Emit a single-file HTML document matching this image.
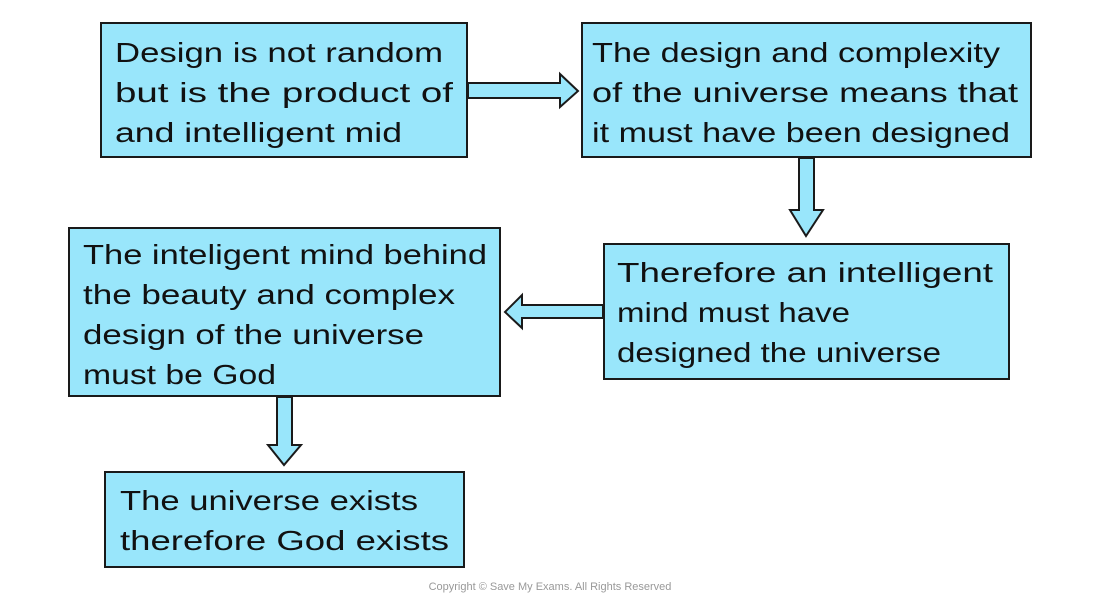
<!DOCTYPE html>
<html><head><meta charset="utf-8"><style>html,body{margin:0;padding:0;background:#fff}svg{display:block}</style></head>
<body>
<svg width="1100" height="604" xmlns="http://www.w3.org/2000/svg" font-family="Liberation Sans, sans-serif">
<g fill="#99e6fb" stroke="#1a1a1a" stroke-width="2">
<rect x="101" y="23" width="366" height="134"/>
<rect x="582" y="23" width="449" height="134"/>
<rect x="69" y="228" width="431" height="168"/>
<rect x="604" y="244" width="405" height="135"/>
<rect x="105" y="472" width="359" height="95"/>
<polygon points="468,83 560,83 560,74 578,91 560,107 560,98 468,98"/>
<polygon points="799,158 814,158 814,210 823,210 806,236 790,210 799,210"/>
<polygon points="603,305 522,305 522,295 505,312 522,328 522,318 603,318"/>
<polygon points="277,397 292,397 292,445 301,445 284,465 268,445 277,445"/>
</g>
<g fill="#111" font-size="28" lengthAdjust="spacingAndGlyphs">
<text x="115" y="62" textLength="328" lengthAdjust="spacingAndGlyphs">Design is not  random</text>
<text x="115" y="102" textLength="338" lengthAdjust="spacingAndGlyphs">but is the product of</text>
<text x="115" y="142" textLength="287" lengthAdjust="spacingAndGlyphs">and intelligent mid</text>
<text x="592" y="62" textLength="408" lengthAdjust="spacingAndGlyphs">The design and complexity</text>
<text x="592" y="102" textLength="426" lengthAdjust="spacingAndGlyphs">of the universe means that</text>
<text x="592" y="142" textLength="418" lengthAdjust="spacingAndGlyphs">it must have been designed</text>
<text x="83" y="264" textLength="404" lengthAdjust="spacingAndGlyphs">The inteligent mind behind</text>
<text x="83" y="304" textLength="372" lengthAdjust="spacingAndGlyphs">the beauty and complex</text>
<text x="83" y="344" textLength="341" lengthAdjust="spacingAndGlyphs">design of the universe</text>
<text x="83" y="384" textLength="193" lengthAdjust="spacingAndGlyphs">must be God</text>
<text x="617" y="282" textLength="376" lengthAdjust="spacingAndGlyphs">Therefore an intelligent</text>
<text x="617" y="322" textLength="233" lengthAdjust="spacingAndGlyphs">mind must have</text>
<text x="617" y="362" textLength="324" lengthAdjust="spacingAndGlyphs">designed the universe</text>
<text x="120" y="510" textLength="298" lengthAdjust="spacingAndGlyphs">The universe exists</text>
<text x="120" y="550" textLength="329" lengthAdjust="spacingAndGlyphs">therefore God exists</text>
</g>
<text x="550" y="590" font-size="11" fill="#999" text-anchor="middle">Copyright © Save My Exams. All Rights Reserved</text>
</svg>
</body></html>
